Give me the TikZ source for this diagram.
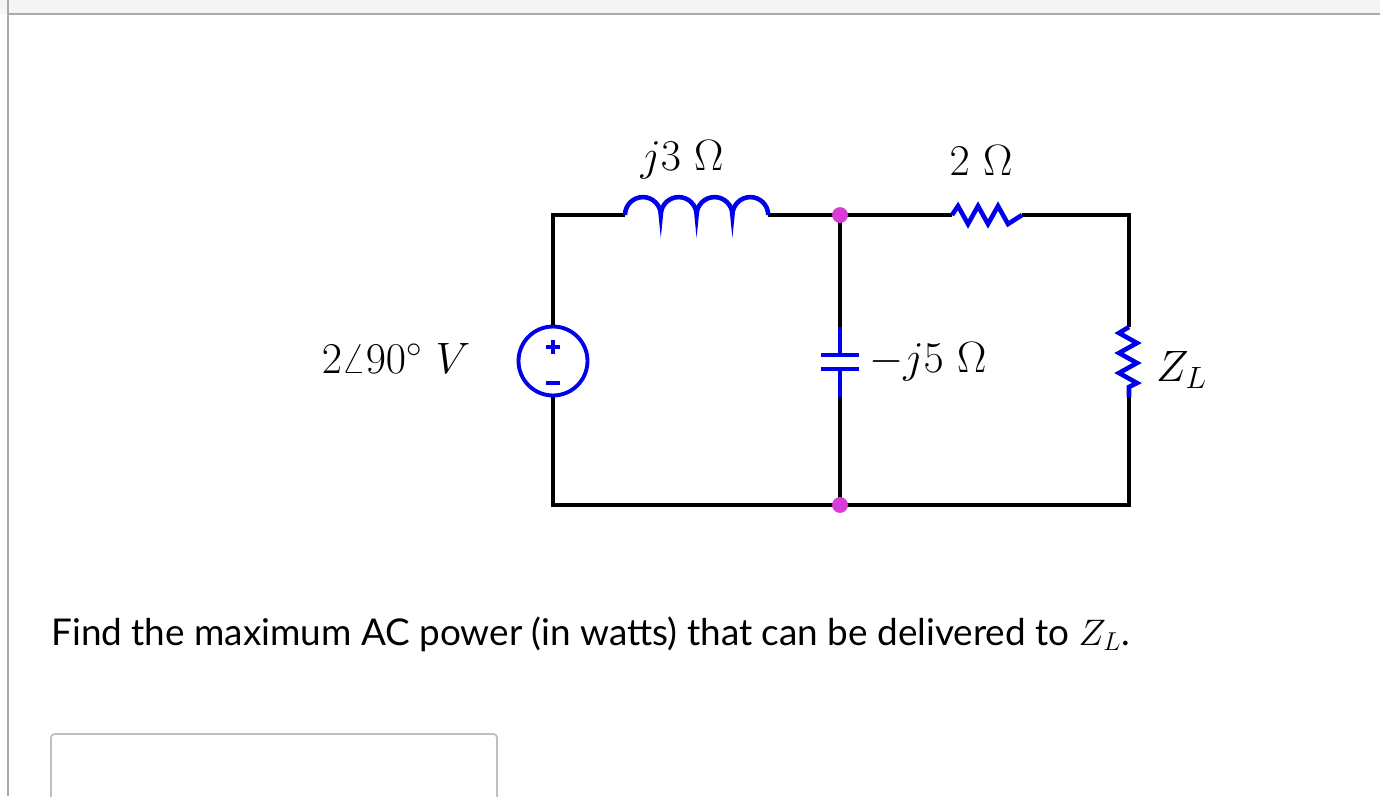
\documentclass[tikz,border=0pt]{standalone}
\usepackage{fix-cm}
\usepackage{amsmath}
\usepackage{fontspec}
\newfontfamily\lato{Lato}
\definecolor{elblue}{RGB}{0,0,235}
\definecolor{dotpink}{RGB}{215,60,215}
\definecolor{framegray}{RGB}{170,170,170}
\tikzset{
  wire/.style={line width=2.6pt},
  part/.style={line width=2.6pt,elblue},
  lbl/.style={font=\fontsize{25}{29}\selectfont},
  jdot/.style={circle,fill=dotpink,inner sep=0pt,minimum size=9pt}
}
\begin{document}
\begin{tikzpicture}[x=0.02cm,y=-0.02cm]
  \useasboundingbox (0,0) rectangle (1380,796);
  % frame
  \fill[black!4] (0,0) rectangle (1380,14);
  \draw[framegray,line width=1.5pt] (8,14) -- (1380,14) (8,0) -- (8,796);
  \draw[black!25,line width=1pt,rounded corners=2pt] (51,800) |- (497,734) -- (497,800);
  % corners
  \coordinate (tl) at (553,215);
  \coordinate (tm) at (840,215);
  \coordinate (tr) at (1129,215);
  \coordinate (bl) at (553,505);
  \coordinate (bm) at (840,505);
  \coordinate (br) at (1129,505);
  % parts
  \coordinate (Ls) at (625,215); \coordinate (Le) at (768,215);
  \coordinate (Rs) at (952,215); \coordinate (Re) at (1022,215);
  \coordinate (Cs) at (840,327); \coordinate (Ce) at (840,397);
  \coordinate (Zs) at (1129,327); \coordinate (Ze) at (1129,397);
  \node[circle,draw=elblue,line width=2.2pt,minimum size=1.38cm,inner sep=0pt] (src) at (553,361) {};
  % wires
  \draw[wire] (src.north) -- (tl) -- (Ls) (Le) -- (tm) -- (Rs) (Re) -- (tr) -- (Zs);
  \draw[wire] (src.south) -- (bl) -- (br) -- (Ze);
  \draw[wire] (tm) -- (Cs) (Ce) -- (bm);
  % inductor
  \draw[part] (Ls) arc (180:360:17.9) arc (180:360:17.9) arc (180:360:17.9) arc (180:360:17.9);
  % resistors
  \draw[part] (Rs) -- ++(6,-9) -- ++(10,18) -- ++(10,-18) -- ++(10,18) -- ++(10,-18) -- ++(10,18) -- (Re);
  \draw[part] (Zs) -- ++(-10,6) -- ++(18,10) -- ++(-18,10) -- ++(18,10) -- ++(-18,10) -- ++(18,10) -- ++(-8,4) -- (Ze);
  % capacitor
  \draw[part] (Cs) -- (840,355) (Ce) -- (840,369);
  \draw[part] (821,355) -- (859,355) (821,369) -- (859,369);
  % source signs
  \draw[elblue,line width=2pt] (546,347) -- (560,347) (553,340) -- (553,354) (546,383) -- (560,383);
  \node[jdot] at (tm) {};
  \node[jdot] at (bm) {};
  % labels
  \node[lbl] (lL) at (682,160) {$j3\ \Omega$};
  \node[lbl] (lR) at (981,160) {$2\ \Omega$};
  \node[lbl] (lV) at (396,358) {$2\angle 90^\circ\ V$};
  \node[lbl,anchor=west] (lC) at (863,362) {$-j5\ \Omega$};
  \node[lbl,anchor=west] (lZ) at (1150,370) {$Z_L$};
  \node[anchor=base west,inner sep=0pt,font=\lato\fontsize{21}{25}\selectfont] (q) at (51,645)
    {Find the maximum AC power (in watts) that can be delivered to $Z_L$.};
\end{tikzpicture}
\end{document}
